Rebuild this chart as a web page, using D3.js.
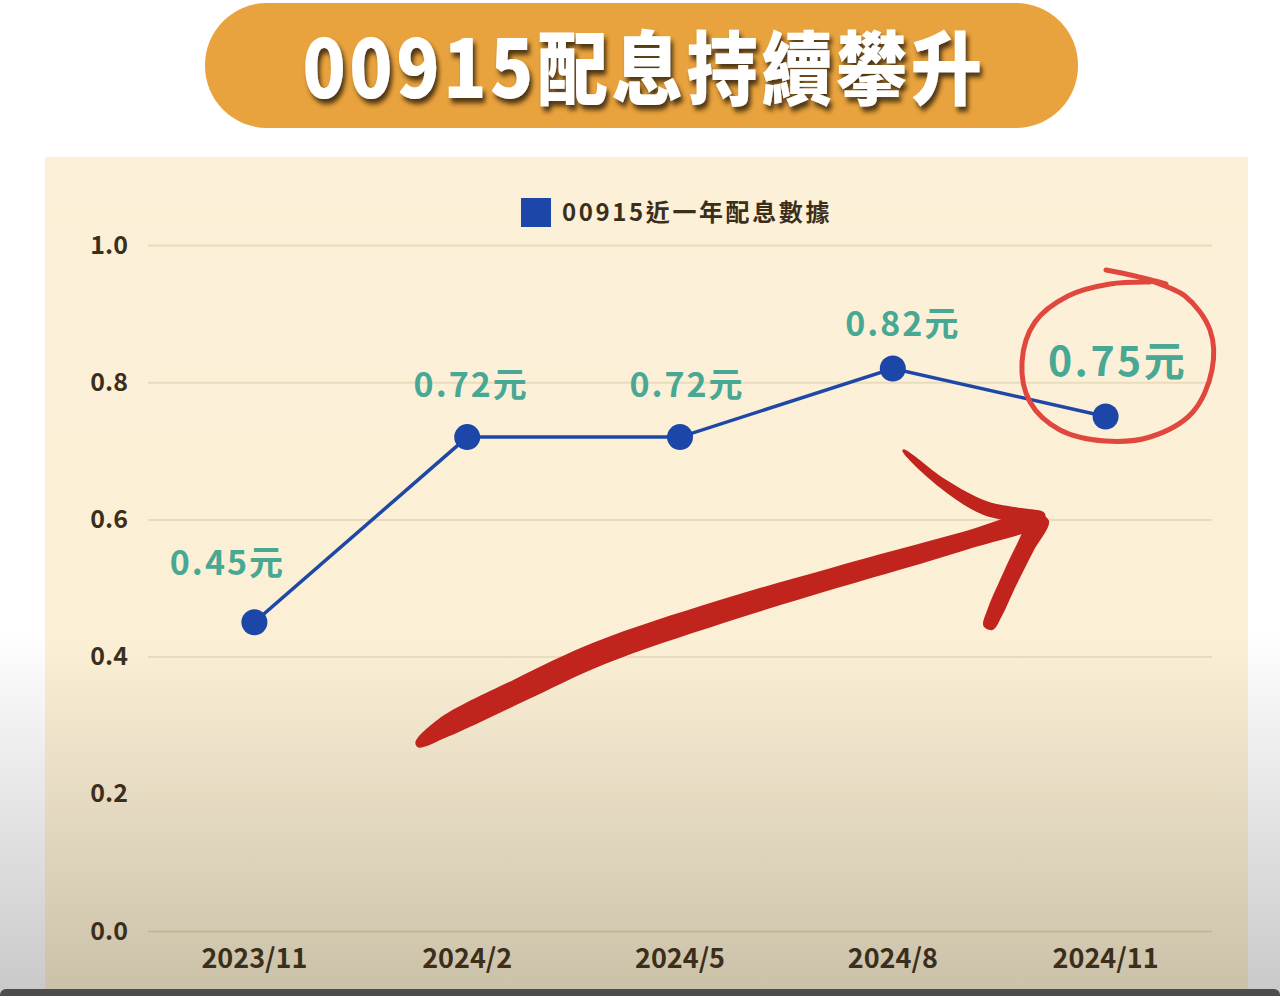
<!DOCTYPE html>
<html>
<head>
<meta charset="utf-8">
<script src="https://cdn.jsdelivr.net/npm/d3@7"></script>
<style>
  html, body { margin: 0; padding: 0; background: #fff; }
  svg { display: block; }
</style>
</head>
<body>
<div id="chart"></div>
<script>
// data
const months = ["2023/11", "2024/2", "2024/5", "2024/8", "2024/11"];
const dividends = [0.45, 0.72, 0.72, 0.82, 0.75];
const yTicks = [0, 0.2, 0.4, 0.6, 0.8, 1.0];
const seriesName = "00915近一年配息數據";
const title = "00915配息持續攀升";

// label nudges (px) so value labels sit like the original
const labelDx = [-27, 4, 7, 10, 12];
const labelDy = [-47, -40, -40, -32, -41];

const width = 1280;
const height = 996;
const margin = { top: 245, right: 68, bottom: 65, left: 148 };

const svg = d3.select("#chart")
    .append("svg")
    .attr("width", width)
    .attr("height", height);

const defs = svg.append("defs");

const bgGrad = defs.append("linearGradient")
    .attr("id", "bgGrad")
    .attr("x1", 0).attr("y1", 0).attr("x2", 0).attr("y2", 1);
bgGrad.append("stop").attr("offset", "0%").attr("stop-color", "#ffffff");
bgGrad.append("stop").attr("offset", "63%").attr("stop-color", "#ffffff");
bgGrad.append("stop").attr("offset", "100%").attr("stop-color", "#c9c9c9");

const panelGrad = defs.append("linearGradient")
    .attr("id", "panelGrad")
    .attr("x1", 0).attr("y1", 0).attr("x2", 0).attr("y2", 1);
panelGrad.append("stop").attr("offset", "0%").attr("stop-color", "#fcf1d8");
panelGrad.append("stop").attr("offset", "58%").attr("stop-color", "#fbf0d6");
panelGrad.append("stop").attr("offset", "100%").attr("stop-color", "#cbc1a9");

const shadow = defs.append("filter").attr("id", "titleShadow")
    .attr("x", "-10%").attr("y", "-20%").attr("width", "130%").attr("height", "150%");
shadow.append("feDropShadow")
    .attr("dx", 3).attr("dy", 5).attr("stdDeviation", 2.5)
    .attr("flood-color", "#3a2a10").attr("flood-opacity", 0.9);

svg.append("rect")
    .attr("width", width).attr("height", height)
    .attr("fill", "url(#bgGrad)");

// title pill
svg.append("rect")
    .attr("x", 205).attr("y", 3)
    .attr("width", 873).attr("height", 125)
    .attr("rx", 62).attr("ry", 62)
    .attr("fill", "#e9a33e");

// slightly condensed, like the original lettering
svg.append("g")
    .attr("transform", "translate(644,98) scale(0.89,1)")
    .append("text")
    .attr("text-anchor", "middle")
    .attr("font-family", "'Noto Sans CJK TC', 'Noto Sans', sans-serif")
    .attr("font-weight", 900)
    .attr("font-size", 80)
    .attr("letter-spacing", 4)
    .attr("fill", "#ffffff")
    .attr("filter", "url(#titleShadow)")
    .text(title);

// chart panel
svg.append("rect")
    .attr("x", 45).attr("y", 157)
    .attr("width", 1203).attr("height", 836)
    .attr("fill", "url(#panelGrad)");

const x = d3.scaleBand()
    .domain(months)
    .range([margin.left, width - margin.right])
    .padding(0);

const y = d3.scaleLinear()
    .domain([0, 1])
    .range([height - margin.bottom, margin.top]);

const font = "'Noto Sans CJK TC', 'Noto Sans', sans-serif";

// y axis + gridlines
const yAxis = svg.append("g")
    .attr("transform", `translate(${margin.left},0)`)
    .call(d3.axisLeft(y)
        .tickValues(yTicks)
        .tickFormat(d3.format(".1f"))
        .tickSize(-(width - margin.left - margin.right))
        .tickPadding(20));
yAxis.select(".domain").remove();
yAxis.selectAll(".tick line")
    .attr("stroke", d => d === 0 ? "#c4b795" : "#e9dcbc")
    .attr("stroke-width", 2);
yAxis.selectAll(".tick text")
    .attr("font-family", font)
    .attr("font-size", 25)
    .attr("font-weight", 600)
    .attr("fill", "#3b2f1c");

// x axis
const xAxis = svg.append("g")
    .attr("transform", `translate(0,${height - margin.bottom})`)
    .call(d3.axisBottom(x).tickSize(0).tickPadding(13));
xAxis.select(".domain").remove();
xAxis.selectAll(".tick text")
    .attr("font-family", font)
    .attr("font-size", 27)
    .attr("font-weight", 700)
    .attr("fill", "#3b2f1c")
    .attr("dy", "0.9em");

// legend
const legend = svg.append("g").attr("transform", "translate(521,198)");
legend.append("rect")
    .attr("width", 30).attr("height", 29)
    .attr("fill", "#1c47a8");
legend.append("text")
    .attr("x", 41).attr("y", 23)
    .attr("font-family", font)
    .attr("font-size", 24)
    .attr("font-weight", 700)
    .attr("letter-spacing", 2.6)
    .attr("fill", "#3b2f1c")
    .text(seriesName);

// series line
const pts = months.map((m, i) => ({ m, v: dividends[i], i }));
const cx = d => x(d.m) + x.bandwidth() / 2;

const line = d3.line()
    .x(cx)
    .y(d => y(d.v));

svg.append("path")
    .datum(pts)
    .attr("d", line)
    .attr("fill", "none")
    .attr("stroke", "#1f48a6")
    .attr("stroke-width", 3.5);

svg.selectAll(".dot")
    .data(pts)
    .enter()
    .append("circle")
    .attr("class", "dot")
    .attr("cx", cx)
    .attr("cy", d => y(d.v))
    .attr("r", 13)
    .attr("fill", "#1c47a8");

svg.selectAll(".val")
    .data(pts)
    .enter()
    .append("text")
    .attr("class", "val")
    .attr("x", d => cx(d) + labelDx[d.i])
    .attr("y", d => y(d.v) + labelDy[d.i])
    .attr("text-anchor", "middle")
    .attr("font-family", font)
    .attr("font-weight", 700)
    .attr("font-size", d => d.i === pts.length - 1 ? 41 : 34)
    .attr("letter-spacing", d => d.i === pts.length - 1 ? 2.5 : 2)
    .attr("fill", "#48a893")
    .text(d => d.v.toFixed(2) + "元");

// hand drawn annotations
const hand = d3.line().curve(d3.curveCatmullRom.alpha(0.5));

// red loop around the last label
svg.append("path")
    .attr("d", hand([
        [1106, 270], [1135, 276], [1166, 284], [1150, 280],
        [1185, 296], [1210, 330], [1212, 370], [1192, 413],
        [1150, 437], [1105, 441], [1060, 430], [1030, 402],
        [1022, 362], [1035, 322], [1068, 296], [1110, 284], [1150, 282]
    ]))
    .attr("fill", "none")
    .attr("stroke", "#e1483d")
    .attr("stroke-width", 5)
    .attr("stroke-linecap", "round")
    .attr("stroke-linejoin", "round");

// brush stroke: centre line + half widths -> closed outline
const brush = d3.line().curve(d3.curveCatmullRomClosed.alpha(0.5));
const stroke = (centre, half) => {
    const left = [], right = [];
    centre.forEach((p, i) => {
        const a = centre[Math.max(0, i - 1)];
        const b = centre[Math.min(centre.length - 1, i + 1)];
        const dx = b[0] - a[0], dy = b[1] - a[1];
        const len = Math.hypot(dx, dy) || 1;
        const nx = -dy / len, ny = dx / len;
        left.push([p[0] + nx * half[i], p[1] + ny * half[i]]);
        right.push([p[0] - nx * half[i], p[1] - ny * half[i]]);
    });
    return brush(left.concat(right.reverse()));
};
const arrowRed = "#c1231d";

// shaft
svg.append("path")
    .attr("d", stroke(
        [[417, 745], [443, 728], [520, 690], [600, 653], [720, 612], [834, 578], [964, 541], [1042, 517]],
        [3, 10, 12, 12, 11.5, 10.5, 9, 6]))
    .attr("fill", arrowRed);

// upper barb
svg.append("path")
    .attr("d", stroke(
        [[903, 450], [942, 483], [985, 508], [1020, 515], [1044, 518]],
        [1, 5, 7, 7, 5]))
    .attr("fill", arrowRed);

// lower barb
svg.append("path")
    .attr("d", stroke(
        [[1042, 517], [1025, 548], [1007, 585], [995, 612], [988, 628]],
        [8, 9, 8.5, 8, 5]))
    .attr("fill", arrowRed);

// dark strip at the very bottom
svg.append("rect")
    .attr("x", 0).attr("y", 989)
    .attr("width", width).attr("height", 12)
    .attr("rx", 6)
    .attr("fill", "#4d4d4d");
</script>
</body>
</html>
